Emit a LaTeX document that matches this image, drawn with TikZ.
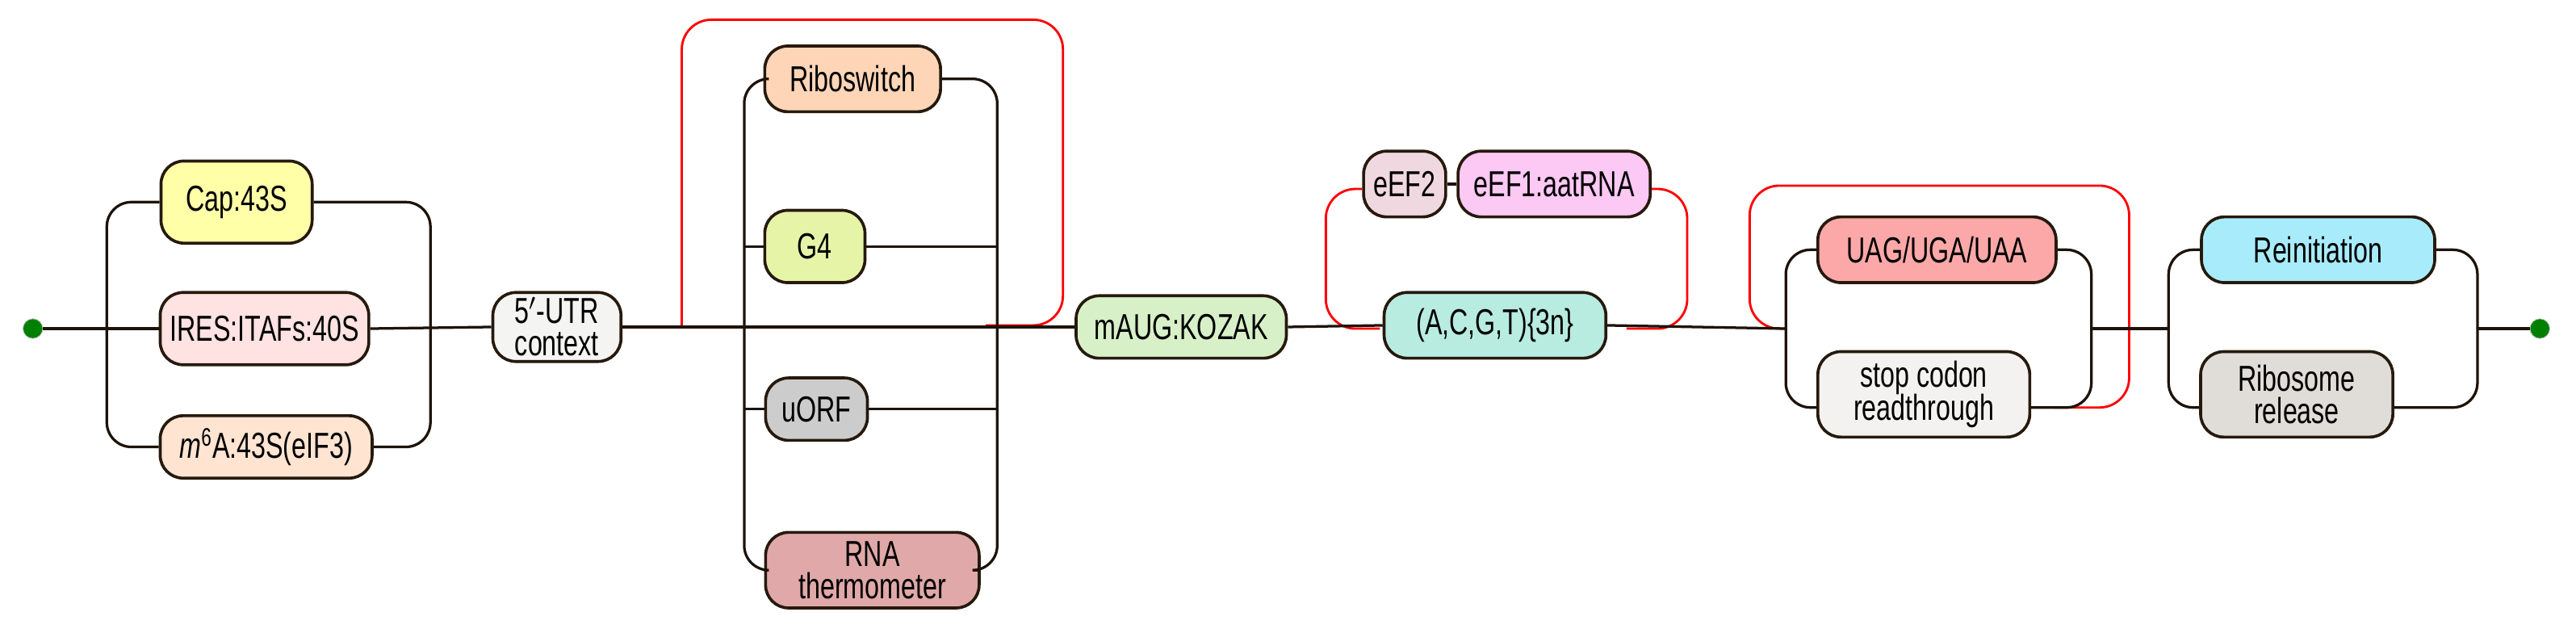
\documentclass[tikz,border=0pt]{standalone}
\usepackage{fontspec}
\setmainfont{Liberation Sans}[FakeStretch=0.72]
\begin{document}
\begin{tikzpicture}[x=1pt,y=-1pt,
  bx/.style={draw=black!80!brown,line width=1.8pt,rounded corners=14pt,align=center,inner sep=2pt,font=\fontsize{22}{25}\selectfont,minimum width=#1},
  ln/.style={draw=black!85!brown,line width=1.6pt},
  rl/.style={draw=black!85!brown,line width=1.6pt,rounded corners=15pt},
  rd/.style={draw=red,line width=1.4pt,rounded corners=18pt},
  dot/.style={circle,fill=green!50!black,draw=gray!50,inner sep=0pt,minimum size=12pt}]
\useasboundingbox (0,0) rectangle (1568,385);
\node[dot] (s) at (20,200) {};
\node[dot] (e) at (1546,200) {};
\node[bx=92pt,minimum height=50pt,fill={rgb,255:red,255;green,255;blue,168}] (cap) at (144,123) {Cap:43S};
\node[bx=127pt,minimum height=44pt,fill={rgb,255:red,255;green,226;blue,226}] (ires) at (161,200) {IRES:ITAFs:40S};
\node[bx=129pt,minimum height=38pt,fill={rgb,255:red,255;green,228;blue,210}] (m6a) at (162,272) {\textit{m}\textsuperscript{6}A:43S(eIF3)};
\node[bx=78pt,minimum height=42pt,fill={rgb,255:red,244;green,244;blue,242}] (utr) at (339,199) {5$'$-UTR\\[-5pt]context};
\node[bx=107pt,minimum height=40pt,fill={rgb,255:red,255;green,213;blue,184}] (ribo) at (519,48) {Riboswitch};
\node[bx=61pt,minimum height=44pt,fill={rgb,255:red,230;green,244;blue,168}] (g4) at (496,150) {G4};
\node[bx=62pt,minimum height=38pt,fill={rgb,255:red,204;green,204;blue,204}] (uorf) at (497,249) {uORF};
\node[bx=130pt,minimum height=46pt,fill={rgb,255:red,224;green,168;blue,168}] (rna) at (531,347) {RNA\\[-5pt]thermometer};
\node[bx=128pt,minimum height=38pt,fill={rgb,255:red,216;green,240;blue,200}] (maug) at (719,199) {mAUG:KOZAK};
\node[bx=50pt,minimum height=40pt,fill={rgb,255:red,240;green,216;blue,224}] (eef2) at (855,112) {eEF2};
\node[bx=117pt,minimum height=40pt,fill={rgb,255:red,252;green,200;blue,244}] (eef1) at (946,112) {eEF1:aatRNA};
\node[bx=135pt,minimum height=40pt,fill={rgb,255:red,184;green,236;blue,224}] (acgt) at (910,198) {(A,C,G,T)\{3n\}};
\node[bx=145pt,minimum height=40pt,fill={rgb,255:red,252;green,168;blue,168}] (uag) at (1179,152) {UAG/UGA/UAA};
\node[bx=129pt,minimum height=52pt,fill={rgb,255:red,244;green,242;blue,240}] (stop) at (1171,240) {stop codon\\[-5pt]readthrough};
\node[bx=142pt,minimum height=40pt,fill={rgb,255:red,168;green,236;blue,252}] (rein) at (1411,152) {Reinitiation};
\node[bx=117pt,minimum height=52pt,fill={rgb,255:red,224;green,220;blue,216}] (rel) at (1398,240) {Ribosome\\[-5pt]release};
% red frames
\draw[rd] (415,198) -- (415,12) -- (647,12) -- (647,198) -- (600,198);
\draw[rd] (840,200) -- (807,200) -- (807,115) -- (eef2.west |- 0,115);
\draw[rd] (eef1.east |- 0,115) -- (1027,115) -- (1027,200) -- (990,200);
\draw[rd] (1087,200) -- (1065,200) -- (1065,113) -- (1296,113) -- (1296,248) -- (1250,248);
% branch 1
\draw[ln] (s) -- (ires.west);
\draw[rl] (cap.west) -- (65,123) -- (65,272) -- (m6a.west);
\draw[rl] (cap.east) -- (262,123) -- (262,272) -- (m6a.east);
\draw[ln] (ires.east) -- (utr.west);
% branch 2
\draw[ln] (utr.east) -- (maug.west);
\draw[rl] (ribo.west) -- (453,48) -- (453,347) -- (rna.west);
\draw[rl] (ribo.east) -- (607,48) -- (607,347) -- (rna.east);
\draw[ln] (453,150) -- (g4.west) (g4.east) -- (607,150);
\draw[ln] (453,249) -- (uorf.west) (uorf.east) -- (607,249);
% loop
\draw[ln] (maug.east) -- (acgt.west);
\draw[ln] (eef2.east) -- (eef1.west);
% branch 3
\draw[ln] (acgt.east) -- (1087,200);
\draw[rl] (uag.west) -- (1087,152) -- (1087,248) -- (stop.west |- 0,248);
\draw[rl] (uag.east) -- (1273,152) -- (1273,248) -- (stop.east |- 0,248);
\draw[ln] (1273,200) -- (1320,200);
% branch 4
\draw[rl] (rein.west) -- (1320,152) -- (1320,248) -- (rel.west |- 0,248);
\draw[rl] (rein.east) -- (1508,152) -- (1508,248) -- (rel.east |- 0,248);
\draw[ln] (1508,200) -- (e);
\end{tikzpicture}
\end{document}
